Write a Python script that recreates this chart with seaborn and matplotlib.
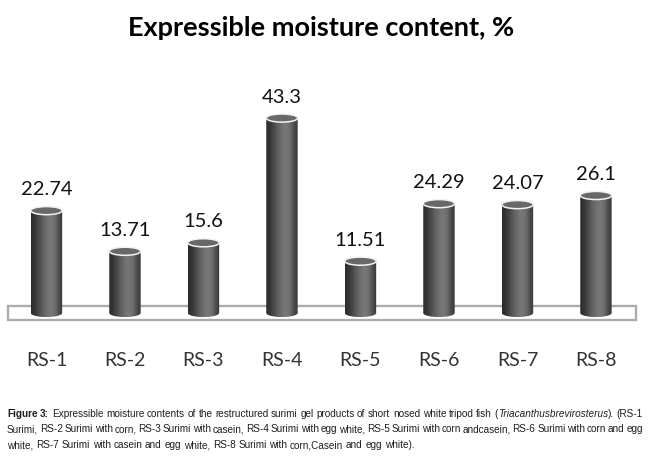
import matplotlib
matplotlib.use("Agg")
import matplotlib.pyplot as plt
import numpy as np
import pandas as pd
import seaborn as sns
from matplotlib.colors import LinearSegmentedColormap
from matplotlib.patches import Ellipse, Rectangle, PathPatch
from matplotlib.path import Path

# ---- data ----
samples = ["RS-1", "RS-2", "RS-3", "RS-4", "RS-5", "RS-6", "RS-7", "RS-8"]
moisture = [22.74, 13.71, 15.6, 43.3, 11.51, 24.29, 24.07, 26.1]
value_labels = ["22.74", "13.71", "15.6", "43.3", "11.51", "24.29", "24.07", "26.1"]
title_text = "Expressible moisture content, %"

caption_lines = [
    [[("Figure", "bold", "normal")], [("3:", "bold", "normal")]]
    + [[(w, "normal", "normal")] for w in
       "Expressible moisture contents of the restructured surimi gel products of short nosed white tripod fish".split()]
    + [[("(", "normal", "normal"), ("Triacanthusbrevirosterus", "normal", "italic"), (").", "normal", "normal")],
       [("(RS-1", "normal", "normal")]],
    [[(w, "normal", "normal")] for w in
     "Surimi, RS-2 Surimi with corn, RS-3 Surimi with casein, RS-4 Surimi with egg white, RS-5 Surimi with corn andcasein, RS-6 Surimi with corn and egg".split()],
    [[(w, "normal", "normal")] for w in
     "white, RS-7 Surimi with casein and egg white, RS-8 Surimi with corn,Casein and egg white).".split()],
]

df = pd.DataFrame({"sample": samples, "value": moisture})

sns.set_theme(style="white")
plt.rcParams["font.family"] = ["Lato", "DejaVu Sans"]

W, H = 650, 459
fig = plt.figure(figsize=(6.5, 4.59), dpi=100)

# axes in pixel placement
ax_left, ax_right, ax_top, ax_bottom = 8, 636, 60, 320
ax = fig.add_axes([ax_left / W, 1 - ax_bottom / H, (ax_right - ax_left) / W, (ax_bottom - ax_top) / H])
ax.set_facecolor("none")

bar_w = 0.4
sns.barplot(data=df, x="sample", y="value", color="#555555", width=bar_w, saturation=1, ax=ax, zorder=3)

ylo, yhi = -1.556, 56.2
ax.set_xlim(-0.49, 7.51)
ax.set_ylim(ylo, yhi)

# floor
floor = Rectangle((0, 0), 1, (ax_bottom - 306) / (ax_bottom - ax_top), transform=ax.transAxes,
                  facecolor="white", edgecolor="#acacac", lw=1.7, zorder=1, clip_on=False)
ax.add_patch(floor)

cmap = LinearSegmentedColormap.from_list(
    "cyl", ["#2a2a2a", "#363636", "#4a4a4a", "#606060", "#707070", "#787878", "#6e6e6e", "#4e4e4e", "#363636"])
grad = np.linspace(0, 1, 256).reshape(1, -1)
ell_h = 1.8  # ellipse height in data units

for p in list(ax.patches):
    if p is floor:
        continue
    x0 = p.get_x()
    w = p.get_width()
    h = p.get_height()
    cx = x0 + w / 2
    p.set_visible(False)
    t = np.linspace(np.pi, 2 * np.pi, 40)
    verts = [(x0, h), (x0, 0)]
    verts += [(cx + w / 2 * np.cos(a), ell_h / 2 * np.sin(a)) for a in t]
    verts += [(x0 + w, h), (x0, h)]
    codes = [Path.MOVETO] + [Path.LINETO] * (len(verts) - 2) + [Path.CLOSEPOLY]
    clip = PathPatch(Path(verts, codes), transform=ax.transData, facecolor="none", edgecolor="none")
    ax.add_patch(clip)
    im = ax.imshow(grad, cmap=cmap, extent=[x0, x0 + w, -ell_h / 2, h], aspect="auto",
                   interpolation="bicubic", zorder=3)
    im.set_clip_path(clip)
    top = Ellipse((cx, h), w, ell_h, facecolor="#686868", edgecolor="#f2f2f2", lw=1.1, zorder=4)
    ax.add_patch(top)

ax.set_xlim(-0.49, 7.51)
ax.set_ylim(ylo, yhi)

ax.bar_label(ax.containers[0], labels=value_labels, padding=9, fontsize=14.5, color="#111111",
             family=["Lato", "DejaVu Sans"])

ax.set_xlabel("")
ax.set_ylabel("")
ax.set_yticks([])
ax.tick_params(axis="x", length=0, pad=23, labelsize=14, labelcolor="#333333")
for s in ax.spines.values():
    s.set_visible(False)

fig.text(321 / W, 1 - 28 / H, title_text, ha="center", va="center", fontsize=19.5,
         fontweight="bold", color="#000000", family=["Lato", "DejaVu Sans"])

# caption with justification
renderer = fig.canvas.get_renderer()
cap_size = 7.2
cap_family = ["Liberation Sans", "DejaVu Sans"]
cap_x0, cap_x1 = 7, 643
cap_baseline = [417, 432, 448]


def seg_width(s, weight, style):
    t = fig.text(0, 0, s, fontsize=cap_size, fontweight=weight, fontstyle=style, family=cap_family)
    wdt = t.get_window_extent(renderer).width
    t.remove()
    return wdt


space = seg_width("a a", "normal", "normal") - seg_width("aa", "normal", "normal")
for li, (words, yy) in enumerate(zip(caption_lines, cap_baseline)):
    seg_ws = [[seg_width(*seg) for seg in word] for word in words]
    word_ws = [sum(s) for s in seg_ws]
    if li < len(caption_lines) - 1:
        gap = (cap_x1 - cap_x0 - sum(word_ws)) / (len(words) - 1)
    else:
        gap = space
    x = cap_x0
    for word, sws, ww in zip(words, seg_ws, word_ws):
        xs = x
        for (s, weight, style), sw in zip(word, sws):
            fig.text(xs / W, 1 - yy / H, s, ha="left", va="baseline", fontsize=cap_size,
                     fontweight=weight, fontstyle=style, family=cap_family, color="#1e1e1e")
            xs += sw
        x += ww + gap

fig.savefig("out.png", dpi=100, facecolor="white")
